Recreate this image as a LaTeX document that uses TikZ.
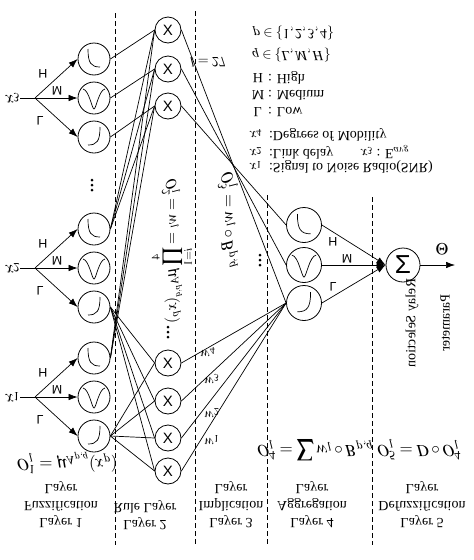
\documentclass[tikz,border=0pt]{standalone}
\usepackage{mathptmx}
\usepackage{fontspec}
\setmainfont{Liberation Serif}
\newfontfamily\sansf{Liberation Sans}
\usetikzlibrary{arrows.meta}
\tikzset{
  txt/.style={yscale=-1, transform shape, inner sep=0pt, font=\fontsize{14}{17}\selectfont},
  fml/.style={txt, font=\fontsize{17}{20}\selectfont},
  inp/.style={txt, font=\fontsize{17}{20}\selectfont},
  lab/.style={txt, font=\sansf\fontsize{12.5}{12.5}\selectfont},
  mf/.style={circle, draw, line width=0.8pt, minimum size=32pt, inner sep=0pt},
  rul/.style={circle, draw, line width=0.8pt, minimum size=26pt, inner sep=0pt, font=\sansf\fontsize{15}{15}\selectfont},
  agg/.style={circle, draw, line width=0.8pt, minimum size=35pt, inner sep=0pt},
  conn/.style={line width=0.7pt},
  arr/.style={conn, -{Latex[length=9pt,width=6.5pt]}},
  dsh/.style={line width=0.6pt, dash pattern=on 5pt off 3pt},
  glyph/.style={line width=0.7pt},
  ell/.style={circle, fill, inner sep=0pt, minimum size=3pt},
}
\newcommand{\glH}[2][1]{\draw[glyph, shift={(#2)}, scale=#1] (-6,-10) .. controls (-6,4) and (-3,8) .. (6,8);}
\newcommand{\glM}[2][1]{\draw[glyph, shift={(#2)}, scale=#1] (-11,-9) .. controls (-5,-8) and (-2,11) .. (0,11) .. controls (2,11) and (5,-8) .. (11,-9);}
\newcommand{\glL}[2][1]{\draw[glyph, shift={(#2)}, scale=#1] (6,-10) .. controls (6,4) and (3,8) .. (-6,8);}
\begin{document}
\begin{tikzpicture}[x=1pt, y=-1pt]
\useasboundingbox (0,0) rectangle (474,560);
% dashed separators
\draw[dsh] (115,13) -- (115,545);
\draw[dsh] (195,11) -- (195,545);
\draw[dsh] (267,195) -- (267,545);
\draw[dsh] (372,197) -- (372,545);
% layer 1
\foreach \g/\yc in {3/98, 2/268, 1/397} {
  \node[mf] (h\g) at (94,\yc-39) {};
  \node[mf] (m\g) at (94,\yc) {};
  \node[mf] (l\g) at (94,\yc+39) {};
  \node[inp] (in\g) at (13,\yc) {$x_{\g}$};
  \coordinate (b\g) at (35,\yc);
  \draw[conn] (in\g.east) -- (b\g);
  \draw[arr] (b\g) -- (h\g.west);
  \draw[arr] (b\g) -- (m\g.west);
  \draw[arr] (b\g) -- (l\g.west);
  \node[lab] at (43,\yc-24) {H};
  \node[lab] at (57,\yc-7) {M};
  \node[lab] at (40,\yc+23) {L};
  \glH{h\g} \glM{m\g} \glL{l\g}
}
% rule layer
\node[rul] (r1) at (168,30) {X};
\node[rul] (r2) at (168,69) {X};
\node[rul] (r3) at (168,106) {X};
\node[rul] (s4) at (168,363) {X};
\node[rul] (s3) at (168,401) {X};
\node[rul] (s2) at (168,438) {X};
\node[rul] (s1) at (168,471) {X};
\draw[conn] (h3.east) -- (r1.west);
\draw[conn] (m3.east) -- (r2.west);
\draw[conn] (l3.east) -- (r3.west);
\foreach \r in {r1,r2,r3} {
  \draw[conn] (h2.east) -- (\r.west);
  \draw[conn] (h1.east) -- (\r.west);
}
\foreach \s in {s1,s2,s3,s4} {
  \draw[conn] (l2.east) -- (\s.west);
  \draw[conn] (l1.east) -- (\s.west);
}
% layer 4
\node[agg] (a1) at (304,225) {};
\node[agg] (a2) at (304,265) {};
\node[agg] (a3) at (304,303) {};
\glH[1.1]{a1} \glM[1.1]{a2} \glL[1.1]{a3}
\draw[conn] (r1.east) -- (a3.west);
\draw[conn] (r2.east) -- (a2.west);
\draw[conn] (r3.east) -- (a1.west);
\foreach \s in {s1,s2,s3,s4} { \draw[conn] (\s.east) -- (a3.west); }
\node[txt] at (208,352) {$w_4$};
\node[txt] at (212,379) {$w_3$};
\node[txt] at (212,413) {$w_2$};
\node[txt] at (212,440) {$w_1$};
\node[txt] at (208,62) {$l=27$};
% layer 5
\node[agg, minimum size=34pt] (sg) at (403,265) {\sansf\fontsize{26}{26}\selectfont Σ};
\coordinate (out) at (455,265);
\draw[arr] (a1.east) -- (sg.west);
\draw[arr] (a2.east) -- (sg.west);
\draw[arr] (a3.east) -- (sg.west);
\draw[arr] (sg.east) -- (out);
\node[lab] at (333,242) {H};
\node[lab] at (347,259) {M};
\node[lab] at (333,287) {L};
\node[fml] at (442,249) {$\Theta$};
\node[txt, rotate=90] at (412,323) {Relay Selection};
\node[txt, rotate=90] at (445,323) {Parameter};
% ellipses
\foreach \xx/\yy in {92/185, 168/332, 260/260} {
  \node[ell] at (\xx,\yy-5) {};
  \node[ell] at (\xx,\yy) {};
  \node[ell] at (\xx,\yy+5) {};
}
% formulas
\node[txt, rotate=90, font=\fontsize{15.5}{18}\selectfont] at (172,251) {$\displaystyle O^2_l = w_l = \prod_{i=1}^{4}\mu_{A_{p,q}}(x_p)$};
\node[fml, rotate=90] at (228,220) {$O^3_l = w_l\circ B_{p,q}$};
\node[fml] at (67,463) {$O^1_l=\mu_{A_{p,q}}(x_p)$};
\node[fml] at (315,450) {$O^4_l=\displaystyle\sum w_l\circ B_{p,q}$};
\node[fml] at (419,450) {$O^5_l=D\circ O^4_l$};
% legend
\node[txt, anchor=west] at (252,33) {$p\in\{1,2,3,4\}$};
\node[txt, anchor=west] at (252,55) {$q\in\{L,M,H\}$};
\node[txt] at (258,78) {H};
\node[txt] at (258,95) {M};
\node[txt] at (258,112) {L};
\node[txt, anchor=west] at (268,78) {: High};
\node[txt, anchor=west] at (268,95) {: Medium};
\node[txt, anchor=west] at (268,112) {: Low};
\node[txt, anchor=west] at (250,135) {$x_4$\ \ :Degrees of Mobility};
\node[txt, anchor=west] at (250,152) {$x_2$\ \ :Link delay\hspace{2em}$x_3$ : E$_{avg}$};
\node[txt, anchor=west] at (250,167) {$x_1$\ \ :Signal to Noise Radio(SNR)};
% layer labels
\node[txt, align=center] at (61,505) {Layer 1\\Fuzzification\\Layer};
\node[txt, align=center] at (145,515) {Layer 2\\Rule Layer};
\node[txt, align=center] at (231,505) {Layer 3\\Implication\\Layer};
\node[txt, align=center] at (312,505) {Layer 4\\Aggregation\\Layer};
\node[txt, align=center] at (422,505) {Layer 5\\Defuzzification\\Layer};
\end{tikzpicture}
\end{document}
